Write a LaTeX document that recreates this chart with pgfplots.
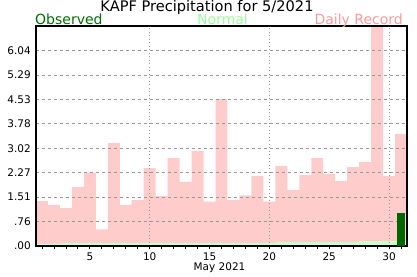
\documentclass[border=0pt]{standalone}
\usepackage{pgfplots}
\pgfplotsset{compat=1.18}
\usepackage{pgfplotstable}
\usepackage{fontspec}
\setmainfont{DejaVu Sans}
\usetikzlibrary{calc}
\definecolor{rec}{HTML}{FFCCCC}
\definecolor{nrm}{HTML}{CCFFCC}
\definecolor{obs}{HTML}{006600}
\definecolor{obstxt}{HTML}{007000}
\definecolor{nrmtxt}{HTML}{99FF99}
\definecolor{rectxt}{HTML}{FF9999}
\definecolor{gridc}{HTML}{999999}

\pgfplotstableread{
day rec nrm
1 1.39 0.07
2 1.27 0.07
3 1.17 0.09
4 1.82 0.09
5 2.27 0.09
6 0.52 0.09
7 3.18 0.09
8 1.27 0.09
9 1.42 0.09
10 2.41 0.09
11 1.54 0.09
12 2.72 0.09
13 1.98 0.09
14 2.93 0.09
15 1.37 0.09
16 4.54 0.09
17 1.42 0.09
18 1.57 0.09
19 2.16 0.09
20 1.37 0.09
21 2.48 0.12
22 1.73 0.12
23 2.20 0.12
24 2.72 0.12
25 2.23 0.12
26 2.01 0.12
27 2.44 0.12
28 2.59 0.15
29 6.80 0.15
30 2.16 0.15
31 3.46 0.15
}\datatable

\pgfplotstableread{
day obs
31 1.03
}\obstable

\begin{document}
\begin{tikzpicture}
\begin{axis}[
  set layers,
  scale only axis, width=371bp, height=220bp,
  xmin=0.5, xmax=31.5, ymin=0, ymax=6.795,
  axis line style={line width=1.2bp},
  xtick={5,10,...,30}, minor xtick={1,...,31},
  tick align=outside, xtick pos=bottom, ytick pos=left,
  major tick length=3bp, minor tick length=3bp,
  tick style={black, line width=0.8bp},
  ytick={0,0.755,1.51,2.265,3.02,3.775,4.53,5.285,6.04},
  yticklabels={.00,.76,1.51,2.27,3.02,3.78,4.53,5.29,6.04},
  ytick style={draw=none},
  ymajorgrids,
  y grid style={gridc, line width=0.8bp, dash pattern=on 3bp off 3bp},
  x grid style={gridc, line width=0.8bp, dash pattern=on 1bp off 2.5bp},
  extra x ticks={10,20,30},
  extra x tick labels={},
  extra x tick style={grid=major, major tick length=0pt},
  /pgf/number format/assume math mode=true,
  tick label style={font=\fontsize{10.5bp}{12bp}\selectfont},
  yticklabel style={anchor=east, inner sep=0pt, xshift=-2bp},
  xticklabel style={anchor=base, inner sep=0pt, yshift=-11bp},
]
\coordinate (sw) at (rel axis cs:0,0);
\addplot[on layer=axis background, ybar, bar width=1, fill=rec, draw=none] table[x=day, y=rec] {\datatable};
\addplot[on layer=axis background, ybar, bar width=1, fill=nrm, draw=none] table[x=day, y=nrm] {\datatable};
\addplot[ybar, bar width=0.7, fill=obs, draw=none] table[x=day, y=obs] {\obstable};
\end{axis}
\path ($(sw)+(-36bp,-30bp)$) rectangle ($(sw)+(381bp,246bp)$);
\node[anchor=base, inner sep=0pt, font=\fontsize{10.5bp}{12bp}\selectfont] at ($(sw)+(183.5bp,-24.7bp)$) {May 2021};
\node[anchor=base, inner sep=0pt, font=\fontsize{14.6bp}{16bp}\selectfont] at ($(sw)+(171bp,235bp)$) {KAPF Precipitation for  5/2021};
\node[anchor=base west, inner sep=0pt, text=obstxt, font=\fontsize{14bp}{16bp}\selectfont] at ($(sw)+(-1bp,222bp)$) {Observed};
\node[anchor=base west, inner sep=0pt, text=nrmtxt, font=\fontsize{14bp}{16bp}\selectfont] at ($(sw)+(161bp,222bp)$) {Normal};
\node[anchor=base east, inner sep=0pt, text=rectxt, font=\fontsize{14bp}{16bp}\selectfont] at ($(sw)+(367bp,222bp)$) {Daily Record};
\end{tikzpicture}
\end{document}
